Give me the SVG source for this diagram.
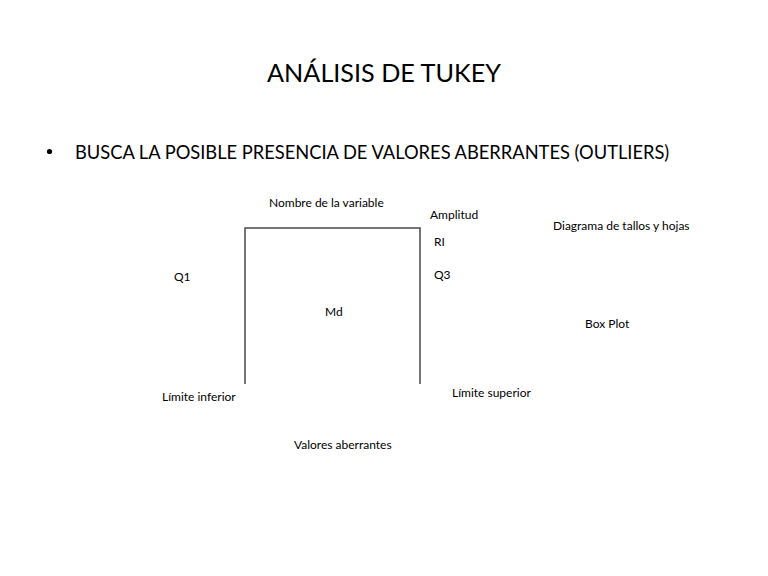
<svg xmlns="http://www.w3.org/2000/svg" width="768" height="576" viewBox="0 0 768 576">
<style>
text{font-family:Lato,"Open Sans","Liberation Sans",sans-serif;fill:#000}
.s{font-size:12px}
.box{fill:none;stroke:#4a4a4a;stroke-width:1.5}
</style>
<rect width="768" height="576" fill="#fff"/>
<g id="title"><text x="384" y="82" text-anchor="middle" font-size="25.2">ANÁLISIS DE TUKEY</text></g>
<g id="bullet">
<circle cx="49.5" cy="151.5" r="2.6" fill="#000"/>
<text x="75" y="159" font-size="18.3">BUSCA LA POSIBLE PRESENCIA DE VALORES ABERRANTES (OUTLIERS)</text>
</g>
<g id="connectors">
<path class="box" d="M245,384 V228 H420 V384"/>
</g>
<g id="nombre"><text class="s" x="269" y="207">Nombre de la variable</text></g>
<g id="amplitud"><text class="s" x="430" y="219">Amplitud</text></g>
<g id="ri"><text class="s" x="434" y="246">RI</text></g>
<g id="q3"><text class="s" x="434" y="279">Q3</text></g>
<g id="q1"><text class="s" x="174" y="281">Q1</text></g>
<g id="md"><text class="s" x="325" y="316">Md</text></g>
<g id="diagrama"><text class="s" x="553" y="230">Diagrama de tallos y hojas</text></g>
<g id="boxplot"><text class="s" x="585" y="328">Box Plot</text></g>
<g id="liminf"><text class="s" x="162" y="401">Límite inferior</text></g>
<g id="limsup"><text class="s" x="452" y="397">Límite superior</text></g>
<g id="valores"><text class="s" x="294" y="449">Valores aberrantes</text></g>
</svg>
